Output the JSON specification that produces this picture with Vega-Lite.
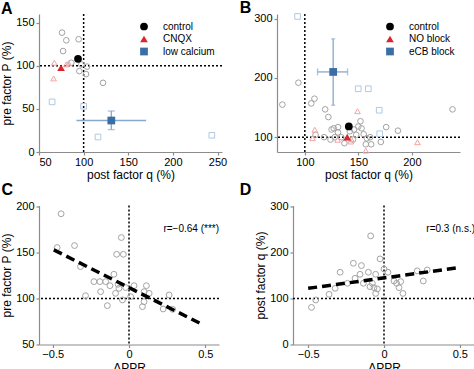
{
  "$schema": "https://vega.github.io/schema/vega-lite/v6.json",
  "padding": {"left": 0, "top": -1, "right": 0, "bottom": 0},
  "columns": 2,
  "align": {"column": "none", "row": "each"},
  "spacing": {"column": 12, "row": 0.5},
  "bounds": "full",
  "resolve": {
    "scale": {"x": "independent", "y": "independent", "color": "independent", "shape": "independent", "stroke": "independent"},
    "legend": {"color": "independent", "shape": "independent"}
  },
  "config": {
    "font": "Liberation Sans",
    "view": {"stroke": null},
    "axis": {"grid": false, "domainColor": "#8c8c8c", "tickColor": "#8c8c8c", "tickSize": 3, "domainWidth": 1.2, "tickWidth": 1.2,
      "labelFontSize": 11, "labelColor": "#000", "titleFontSize": 12, "titleFontWeight": "normal", "titleColor": "#000",
      "labelFlush": false, "labelOverlap": false},
    "axisX": {"labelPadding": 1, "titlePadding": 2.5},
    "axisY": {"labelPadding": 2, "titlePadding": 2},
    "title": {"fontSize": 16, "fontWeight": "bold", "anchor": "start", "frame": "group", "baseline": "alphabetic", "color": "#000"},
    "legend": {"orient": "none", "padding": 0, "labelFontSize": 10, "labelColor": "#000", "symbolSize": 60, "rowPadding": 2.5, "labelOffset": 14, "symbolStrokeWidth": 0}
  },
  "concat": [
    {
      "width": 183, "height": 138,
      "title": {"text": "A", "dx": -38, "dy": 4, "offset": 0},
      "resolve": {"scale": {"shape": "independent", "color": "independent"}},
      "layer": [
        {"data": {"values": [{}]},
         "mark": {"type": "rule", "strokeDash": [2, 2], "strokeWidth": 1.5, "color": "#000"},
         "encoding": {"x": {"datum": 100, "type": "quantitative", "title": "post factor q (%)", "scale": {"domain": [50, 255], "nice": false, "zero": false}}}},
        {"data": {"values": [{}]},
         "mark": {"type": "rule", "strokeDash": [2, 2], "strokeWidth": 1.5, "color": "#000"},
         "encoding": {"y": {"datum": 100, "type": "quantitative", "title": "pre factor P (%)", "scale": {"domain": [0, 160], "nice": false, "zero": false}}}},
        {"data": {"values": [
          {"group": "control", "x": 75.8, "y": 138.4}, {"group": "control", "x": 80.6, "y": 129.5}, {"group": "control", "x": 77, "y": 117},
          {"group": "control", "x": 94.4, "y": 130.7}, {"group": "control", "x": 95.2, "y": 93.8}, {"group": "control", "x": 86.2, "y": 103.5},
          {"group": "control", "x": 97.5, "y": 101.5}, {"group": "control", "x": 103.8, "y": 99}, {"group": "control", "x": 102.7, "y": 90.3},
          {"group": "control", "x": 121.7, "y": 80.2},
          {"group": "CNQX", "x": 67.2, "y": 103.5}, {"group": "CNQX", "x": 66.4, "y": 85.3}, {"group": "CNQX", "x": 80.6, "y": 101.6}, {"group": "CNQX", "x": 83.2, "y": 102.8},
          {"group": "low calcium", "x": 64.7, "y": 58.1}, {"group": "low calcium", "x": 100, "y": 53}, {"group": "low calcium", "x": 116.1, "y": 17.4}, {"group": "low calcium", "x": 243.6, "y": 19.4}
        ]},
         "mark": {"type": "point", "filled": false, "strokeWidth": 1, "size": 32, "opacity": 1},
         "encoding": {
           "x": {"field": "x", "type": "quantitative", "title": "post factor q (%)", "scale": {"domain": [50, 255], "nice": false, "zero": false}, "axis": {"values": [50, 100, 150, 200, 250], "labelFlush": true}},
           "y": {"field": "y", "type": "quantitative", "title": "pre factor P (%)", "scale": {"domain": [0, 160], "nice": false, "zero": false}, "axis": {"values": [0, 50, 100, 150]}},
           "shape": {"field": "group", "type": "nominal", "scale": {"domain": ["control", "CNQX", "low calcium"], "range": ["circle", "triangle-up", "square"]}, "legend": null},
           "stroke": {"field": "group", "type": "nominal", "scale": {"domain": ["control", "CNQX", "low calcium"], "range": ["#a3a3a3", "#f2a5a5", "#b0c9e2"]}, "legend": null}
         }},
        {"data": {"values": [{"y": 36.5, "xlo": 92, "xhi": 170}]},
         "mark": {"type": "rule", "color": "#86a9cf", "strokeWidth": 1.3},
         "encoding": {
           "x": {"field": "xlo", "type": "quantitative", "title": "post factor q (%)", "scale": {"domain": [50, 255], "nice": false, "zero": false}},
           "x2": {"field": "xhi"},
           "y": {"field": "y", "type": "quantitative", "title": "pre factor P (%)", "scale": {"domain": [0, 160], "nice": false, "zero": false}}
         }},
        {"data": {"values": [{"x": 131, "ylo": 26, "yhi": 47.5}]},
         "mark": {"type": "errorbar", "ticks": true, "color": "#86a9cf", "thickness": 1.3, "size": 7},
         "encoding": {
           "x": {"field": "x", "type": "quantitative", "title": "post factor q (%)", "scale": {"domain": [50, 255], "nice": false, "zero": false}},
           "y": {"field": "ylo", "type": "quantitative", "title": "pre factor P (%)", "scale": {"domain": [0, 160], "nice": false, "zero": false}},
           "y2": {"field": "yhi"}
         }},
        {"data": {"values": [
          {"group": "control", "x": 93.7, "y": 108.1}, {"group": "CNQX", "x": 74.7, "y": 97.7}, {"group": "low calcium", "x": 131, "y": 36.5}
        ]},
         "mark": {"type": "point", "filled": true, "size": 60, "opacity": 1},
         "encoding": {
           "x": {"field": "x", "type": "quantitative", "title": "post factor q (%)", "scale": {"domain": [50, 255], "nice": false, "zero": false}},
           "y": {"field": "y", "type": "quantitative", "title": "pre factor P (%)", "scale": {"domain": [0, 160], "nice": false, "zero": false}},
           "color": {"field": "group", "type": "nominal", "scale": {"domain": ["control", "CNQX", "low calcium"], "range": ["#000000", "#d8262c", "#3b6ea5"]}, "legend": {"title": null, "legendX": 100, "legendY": 7.5}},
           "shape": {"field": "group", "type": "nominal", "scale": {"domain": ["control", "CNQX", "low calcium"], "range": ["circle", "triangle-up", "square"]}, "legend": {"title": null, "legendX": 100, "legendY": 7.5}}
         }}
      ]
    },
    {
      "width": 183, "height": 138,
      "title": {"text": "B", "dx": -37.3, "dy": 4, "offset": 0},
      "resolve": {"scale": {"shape": "independent", "color": "independent"}},
      "layer": [
        {"data": {"values": [{}]},
         "mark": {"type": "rule", "strokeDash": [2, 2], "strokeWidth": 1.5, "color": "#000"},
         "encoding": {"x": {"datum": 100, "type": "quantitative", "title": "post factor q (%)", "scale": {"domain": [74, 245], "nice": false, "zero": false}}}},
        {"data": {"values": [{}]},
         "mark": {"type": "rule", "strokeDash": [2, 2], "strokeWidth": 1.5, "color": "#000"},
         "encoding": {"y": {"datum": 100, "type": "quantitative", "title": null, "scale": {"domain": [75, 308], "nice": false, "zero": false}}}},
        {"data": {"values": [
          {"group": "control", "x": 79, "y": 155}, {"group": "control", "x": 94, "y": 192}, {"group": "control", "x": 109, "y": 165},
          {"group": "control", "x": 106, "y": 157}, {"group": "control", "x": 119, "y": 147}, {"group": "control", "x": 122, "y": 134},
          {"group": "control", "x": 110, "y": 104}, {"group": "control", "x": 124, "y": 96}, {"group": "control", "x": 125, "y": 113},
          {"group": "control", "x": 127, "y": 115}, {"group": "control", "x": 131, "y": 117}, {"group": "control", "x": 131, "y": 108},
          {"group": "control", "x": 134, "y": 100}, {"group": "control", "x": 137, "y": 90}, {"group": "control", "x": 142, "y": 110},
          {"group": "control", "x": 146, "y": 113}, {"group": "control", "x": 150, "y": 118}, {"group": "control", "x": 152, "y": 127},
          {"group": "control", "x": 153, "y": 115}, {"group": "control", "x": 155, "y": 105}, {"group": "control", "x": 158, "y": 98},
          {"group": "control", "x": 157, "y": 88}, {"group": "control", "x": 162, "y": 88}, {"group": "control", "x": 161, "y": 100},
          {"group": "control", "x": 171, "y": 92}, {"group": "control", "x": 176, "y": 117}, {"group": "control", "x": 187, "y": 111},
          {"group": "control", "x": 238, "y": 147}, {"group": "control", "x": 145, "y": 96}, {"group": "control", "x": 128, "y": 100},
          {"group": "control", "x": 118, "y": 100}, {"group": "control", "x": 148, "y": 104},
          {"group": "NO block", "x": 149.2, "y": 143.8}, {"group": "NO block", "x": 109.3, "y": 112.6}, {"group": "NO block", "x": 107.2, "y": 98.3},
          {"group": "NO block", "x": 130.6, "y": 95.6}, {"group": "NO block", "x": 143, "y": 92.7}, {"group": "NO block", "x": 157, "y": 77.3},
          {"group": "NO block", "x": 205.3, "y": 91.5}, {"group": "NO block", "x": 143.4, "y": 96.6},
          {"group": "eCB block", "x": 93.2, "y": 303.9}, {"group": "eCB block", "x": 149.9, "y": 181.8}, {"group": "eCB block", "x": 159.3, "y": 181.8},
          {"group": "eCB block", "x": 169.5, "y": 145.5}, {"group": "eCB block", "x": 170, "y": 105.8}
        ]},
         "mark": {"type": "point", "filled": false, "strokeWidth": 1, "size": 32, "opacity": 1},
         "encoding": {
           "x": {"field": "x", "type": "quantitative", "title": "post factor q (%)", "scale": {"domain": [74, 245], "nice": false, "zero": false}, "axis": {"values": [100, 150, 200]}},
           "y": {"field": "y", "type": "quantitative", "title": null, "scale": {"domain": [75, 308], "nice": false, "zero": false}, "axis": {"values": [100, 150, 200, 250, 300]}},
           "shape": {"field": "group", "type": "nominal", "scale": {"domain": ["control", "NO block", "eCB block"], "range": ["circle", "triangle-up", "square"]}, "legend": null},
           "stroke": {"field": "group", "type": "nominal", "scale": {"domain": ["control", "NO block", "eCB block"], "range": ["#a3a3a3", "#f2a5a5", "#b0c9e2"]}, "legend": null}
         }},
        {"data": {"values": [{"y": 210.2, "xlo": 111.9, "xhi": 139.9}]},
         "mark": {"type": "errorbar", "ticks": true, "color": "#86a9cf", "thickness": 1.3, "size": 7},
         "encoding": {
           "x": {"field": "xlo", "type": "quantitative", "title": "post factor q (%)", "scale": {"domain": [74, 245], "nice": false, "zero": false}},
           "x2": {"field": "xhi"},
           "y": {"field": "y", "type": "quantitative", "title": null, "scale": {"domain": [75, 308], "nice": false, "zero": false}}
         }},
        {"data": {"values": [{"x": 126.5, "ylo": 154, "yhi": 266}]},
         "mark": {"type": "errorbar", "ticks": true, "color": "#86a9cf", "thickness": 1.3, "size": 4},
         "encoding": {
           "x": {"field": "x", "type": "quantitative", "title": "post factor q (%)", "scale": {"domain": [74, 245], "nice": false, "zero": false}},
           "y": {"field": "ylo", "type": "quantitative", "title": null, "scale": {"domain": [75, 308], "nice": false, "zero": false}},
           "y2": {"field": "yhi"}
         }},
        {"data": {"values": [
          {"group": "control", "x": 141.1, "y": 118.2}, {"group": "NO block", "x": 139.6, "y": 100}, {"group": "eCB block", "x": 126.5, "y": 210.2}
        ]},
         "mark": {"type": "point", "filled": true, "size": 60, "opacity": 1},
         "encoding": {
           "x": {"field": "x", "type": "quantitative", "title": "post factor q (%)", "scale": {"domain": [74, 245], "nice": false, "zero": false}},
           "y": {"field": "y", "type": "quantitative", "title": null, "scale": {"domain": [75, 308], "nice": false, "zero": false}},
           "color": {"field": "group", "type": "nominal", "scale": {"domain": ["control", "NO block", "eCB block"], "range": ["#000000", "#d8262c", "#3b6ea5"]}, "legend": {"title": null, "legendX": 108, "legendY": 7.5}},
           "shape": {"field": "group", "type": "nominal", "scale": {"domain": ["control", "NO block", "eCB block"], "range": ["circle", "triangle-up", "square"]}, "legend": {"title": null, "legendX": 108, "legendY": 7.5}}
         }}
      ]
    },
    {
      "width": 180, "height": 139,
      "title": {"text": "C", "dx": -37.5, "offset": 2},
      "layer": [
        {"data": {"values": [{}]},
         "mark": {"type": "rule", "strokeDash": [2, 2], "strokeWidth": 1.5, "color": "#000"},
         "encoding": {"x": {"datum": 0, "type": "quantitative", "title": "ΔPPR", "scale": {"domain": [-0.59, 0.59], "nice": false, "zero": false}}}},
        {"data": {"values": [{}]},
         "mark": {"type": "rule", "strokeDash": [2, 2], "strokeWidth": 1.5, "color": "#000"},
         "encoding": {"y": {"datum": 100, "type": "quantitative", "title": "pre factor P (%)", "scale": {"domain": [50, 201], "nice": false, "zero": false}}}},
        {"data": {"values": [
          {"x": -0.445, "y": 192}, {"x": -0.471, "y": 155.3}, {"x": -0.357, "y": 157.5}, {"x": -0.318, "y": 134.6}, {"x": -0.285, "y": 103},
          {"x": -0.23, "y": 118.3}, {"x": -0.191, "y": 118.3}, {"x": -0.186, "y": 107.4}, {"x": -0.142, "y": 92.2}, {"x": -0.153, "y": 118.3},
          {"x": -0.125, "y": 113.9}, {"x": -0.099, "y": 126.3}, {"x": -0.081, "y": 148}, {"x": -0.088, "y": 105.6}, {"x": -0.072, "y": 115.4},
          {"x": -0.066, "y": 111}, {"x": -0.05, "y": 166.2}, {"x": -0.037, "y": 148}, {"x": -0.043, "y": 98.4}, {"x": -0.022, "y": 111.8},
          {"x": 0.011, "y": 102}, {"x": 0.033, "y": 113.9}, {"x": 0.114, "y": 113.9}, {"x": 0.099, "y": 107.4}, {"x": 0.132, "y": 105.6},
          {"x": 0.099, "y": 96.5}, {"x": 0.088, "y": 91.1}, {"x": 0.224, "y": 88.6}, {"x": 0.263, "y": 103.8}, {"x": 0.286, "y": 88.2}
        ]},
         "mark": {"type": "point", "shape": "circle", "filled": false, "strokeWidth": 1, "size": 34, "color": "#a3a3a3", "opacity": 1},
         "encoding": {
           "x": {"field": "x", "type": "quantitative", "title": "ΔPPR", "scale": {"domain": [-0.59, 0.59], "nice": false, "zero": false}, "axis": {"values": [-0.5, 0, 0.5], "format": "~g"}},
           "y": {"field": "y", "type": "quantitative", "title": "pre factor P (%)", "scale": {"domain": [50, 201], "nice": false, "zero": false}, "axis": {"values": [50, 100, 150, 200]}}
         }},
        {"data": {"values": [{"x": -0.493, "y": 152.8}, {"x": 0.489, "y": 71.1}]},
         "mark": {"type": "line", "strokeDash": [9, 5], "strokeWidth": 3.5, "color": "#000", "strokeCap": "butt"},
         "encoding": {
           "x": {"field": "x", "type": "quantitative", "title": "ΔPPR", "scale": {"domain": [-0.59, 0.59], "nice": false, "zero": false}},
           "y": {"field": "y", "type": "quantitative", "title": "pre factor P (%)", "scale": {"domain": [50, 201], "nice": false, "zero": false}}
         }},
        {"data": {"values": [{"x": 0.59, "y": 175, "label": "r=−0.64 (***)"}]},
         "mark": {"type": "text", "align": "right", "baseline": "middle", "fontSize": 10, "color": "#000"},
         "encoding": {
           "x": {"field": "x", "type": "quantitative", "title": "ΔPPR", "scale": {"domain": [-0.59, 0.59], "nice": false, "zero": false}},
           "y": {"field": "y", "type": "quantitative", "title": "pre factor P (%)", "scale": {"domain": [50, 201], "nice": false, "zero": false}},
           "text": {"field": "label"}
         }}
      ]
    },
    {
      "width": 182, "height": 139,
      "title": {"text": "D", "dx": -53.3, "offset": 2.7},
      "layer": [
        {"data": {"values": [{}]},
         "mark": {"type": "rule", "strokeDash": [2, 2], "strokeWidth": 1.5, "color": "#000"},
         "encoding": {"x": {"datum": 0, "type": "quantitative", "title": "ΔPPR", "scale": {"domain": [-0.6, 0.6], "nice": false, "zero": false}}}},
        {"data": {"values": [{}]},
         "mark": {"type": "rule", "strokeDash": [2, 2], "strokeWidth": 1.5, "color": "#000"},
         "encoding": {"y": {"datum": 100, "type": "quantitative", "title": "post factor q (%)", "scale": {"domain": [0, 302], "nice": false, "zero": false}}}},
        {"data": {"values": [
          {"x": -0.478, "y": 80.6}, {"x": -0.45, "y": 96.7}, {"x": -0.362, "y": 109}, {"x": -0.322, "y": 122}, {"x": -0.289, "y": 157},
          {"x": -0.241, "y": 133}, {"x": -0.202, "y": 176.5}, {"x": -0.191, "y": 143.8}, {"x": -0.158, "y": 152.5}, {"x": -0.149, "y": 171.5},
          {"x": -0.136, "y": 133}, {"x": -0.103, "y": 157}, {"x": -0.092, "y": 125.7}, {"x": -0.088, "y": 236}, {"x": -0.077, "y": 133},
          {"x": -0.066, "y": 123.5}, {"x": -0.055, "y": 152.5}, {"x": -0.055, "y": 111}, {"x": -0.044, "y": 120.7}, {"x": -0.026, "y": 186},
          {"x": 0, "y": 164}, {"x": 0.026, "y": 157}, {"x": 0.066, "y": 138}, {"x": 0.083, "y": 133}, {"x": 0.099, "y": 123.5},
          {"x": 0.11, "y": 136.6}, {"x": 0.125, "y": 111}, {"x": 0.219, "y": 160}, {"x": 0.259, "y": 138}, {"x": 0.285, "y": 162}
        ]},
         "mark": {"type": "point", "shape": "circle", "filled": false, "strokeWidth": 1, "size": 34, "color": "#a3a3a3", "opacity": 1},
         "encoding": {
           "x": {"field": "x", "type": "quantitative", "title": "ΔPPR", "scale": {"domain": [-0.6, 0.6], "nice": false, "zero": false}, "axis": {"values": [-0.5, 0, 0.5], "format": "~g"}},
           "y": {"field": "y", "type": "quantitative", "title": "post factor q (%)", "scale": {"domain": [0, 302], "nice": false, "zero": false}, "axis": {"values": [0, 100, 200, 300]}}
         }},
        {"data": {"values": [{"x": -0.5, "y": 122}, {"x": 0.493, "y": 167}]},
         "mark": {"type": "line", "strokeDash": [9, 5], "strokeWidth": 3.5, "color": "#000", "strokeCap": "butt"},
         "encoding": {
           "x": {"field": "x", "type": "quantitative", "title": "ΔPPR", "scale": {"domain": [-0.6, 0.6], "nice": false, "zero": false}},
           "y": {"field": "y", "type": "quantitative", "title": "post factor q (%)", "scale": {"domain": [0, 302], "nice": false, "zero": false}}
         }},
        {"data": {"values": [{"x": 0.6, "y": 250, "label": "r=0.3 (n.s.)"}]},
         "mark": {"type": "text", "align": "right", "baseline": "middle", "fontSize": 10, "color": "#000"},
         "encoding": {
           "x": {"field": "x", "type": "quantitative", "title": "ΔPPR", "scale": {"domain": [-0.6, 0.6], "nice": false, "zero": false}},
           "y": {"field": "y", "type": "quantitative", "title": "post factor q (%)", "scale": {"domain": [0, 302], "nice": false, "zero": false}},
           "text": {"field": "label"}
         }}
      ]
    }
  ]
}
